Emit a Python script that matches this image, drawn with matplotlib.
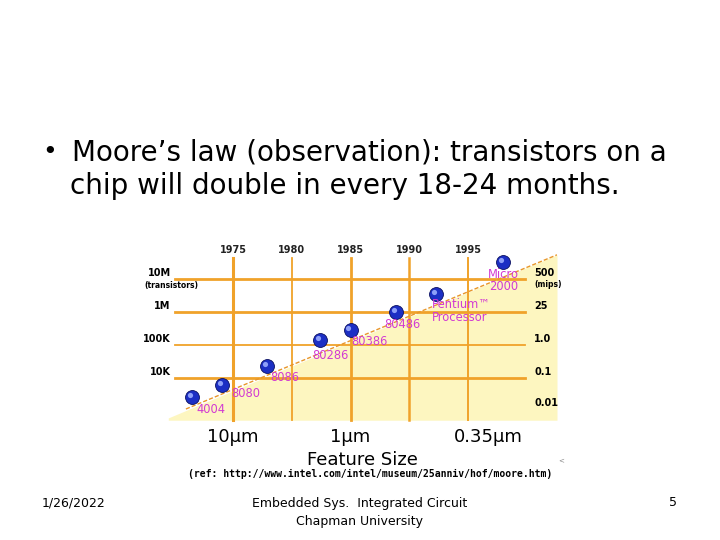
import numpy as np
import matplotlib
matplotlib.use("Agg")
import matplotlib.pyplot as plt
from matplotlib.transforms import ScaledTranslation

plt.rcParams['font.family'] = ['DejaVu Sans']

# chip data
chips = ['4004', '8080', '8086', '80286', '80386', '80486', 'Pentium\u2122\nProcessor', 'Micro\n2000']
years = [1971.5, 1974.1, 1977.9, 1982.4, 1985.0, 1988.9, 1992.3, 1998.0]
transistors = [2600, 6000, 23000, 140000, 280000, 1000000, 3500000, 32000000]

grid_years = [1975, 1980, 1985, 1990, 1995]
grid_counts = [1e7, 1e6, 1e5, 1e4]
count_labels = ['10M', '1M', '100K', '10K']
mips_labels = ['500', '25', '1.0', '0.1', '0.01']
mips_levels = [1e7, 1e6, 1e5, 1e4, 10**3.24]
feature_sizes = ['10\u03bcm', '1\u03bcm', '0.35\u03bcm']
feature_years = [1975, 1985, 1996.7]

trend_years = [1969.5, 2002.55]
trend_counts = [10**2.79, 10**7.73]
fill_base = 10**2.72

# label offsets in points (dx, dy) and alignment
label_offsets = [(3, -8.6), (6.5, -5.8), (2.2, -8), (-5.8, -10.8), (0.7, -8), (-8.6, -9.4), (-3, -12.2), (0, -13)]
label_align = ['left'] * 7 + ['center']

orange = '#f0a22a'
magenta = '#d23ad2'

fig = plt.figure(figsize=(7.2, 5.4), dpi=100)
fig.patch.set_facecolor('white')

# slide text
fig.text(50 / 720, 1 - 152 / 540, '\u2022', fontsize=18, va='center', ha='center')
fig.text(72 / 720, 1 - 152 / 540, 'Moore\u2019s law (observation): transistors on a',
         fontsize=20, va='center', ha='left')
fig.text(70 / 720, 1 - 186 / 540, 'chip will double in every 18-24 months.',
         fontsize=20, va='center', ha='left')

# footer
fig.text(74 / 720, 1 - 503 / 540, '1/26/2022', fontsize=9, ha='center', va='center')
fig.text(360 / 720, 1 - 503 / 540, 'Embedded Sys.  Integrated Circuit', fontsize=9, ha='center', va='center')
fig.text(360 / 720, 1 - 521 / 540, 'Chapman University', fontsize=9, ha='center', va='center')
fig.text(673 / 720, 1 - 503 / 540, '5', fontsize=9, ha='center', va='center')

# chart
ax = fig.add_axes([137 / 720, 1 - 485 / 540, 420 / 720, 248 / 540])
ax.set_xlim(1966.84, 2002.55)
ax.set_yscale('log')
ax.set_ylim(10**0.758, 10**8.27)
ax.axis('off')

tx = np.linspace(trend_years[0], trend_years[1], 50)
ty = 10**np.interp(tx, trend_years, np.log10(trend_counts))
ax.fill_between(tx, fill_base, ty, color='#fdf6c0', lw=0, zorder=1)

year_lw = [2.2, 1.3, 2.0, 1.8, 1.4]
for y, lw in zip(grid_years, year_lw):
    ax.plot([y, y], [10**2.73, 10**7.64], color=orange, lw=lw, zorder=2)
    ax.text(y, 10**7.88, str(y), fontsize=7, fontweight='bold', ha='center', va='center', color='#222222')
count_lw = [2.0, 2.0, 1.3, 2.0]
for c, lab, lw in zip(grid_counts, count_labels, count_lw):
    ax.plot([1970.07, 1999.8], [c, c], color=orange, lw=lw, zorder=2)
    ax.text(1969.7, c * 10**0.18, lab, fontsize=7, fontweight='bold', ha='right', va='center')
ax.text(1967.5, 1e7 / 10**0.2, '(transistors)', fontsize=5.5, fontweight='bold', ha='left', va='center')

for lab, lev in zip(mips_labels, mips_levels):
    ax.text(2000.6, lev * 10**0.18 if lab != '0.01' else lev, lab, fontsize=7, fontweight='bold',
            ha='left', va='center')
ax.text(2000.6, 1e7 / 10**0.18, '(mips)', fontsize=5.5, fontweight='bold', ha='left', va='center')

# trend line (dashed)
ax.plot([1971.0, 2002.55], [10**3.06, 10**7.73], color='#e8962a', lw=1.0, ls=(0, (3, 1.5)), zorder=3)

# chips as shaded spheres
ax.scatter(years, transistors, s=100, color='#1c2fc4', edgecolor='#0a1060', lw=0.6, zorder=5)
shine = ax.transData + ScaledTranslation(-1.6 / 72, 1.6 / 72, fig.dpi_scale_trans)
ax.scatter(years, transistors, s=14, color='#8ea0f8', lw=0, zorder=6, transform=shine)
for name, x, t, off, ha in zip(chips, years, transistors, label_offsets, label_align):
    ax.annotate(name, (x, t), xytext=off, textcoords='offset points', fontsize=8.3,
                color=magenta, ha=ha, va='center', linespacing=0.95, zorder=7)

for lab, x in zip(feature_sizes, feature_years):
    ax.text(x, 10**2.21, lab, fontsize=13, ha='center', va='center')
ax.text(0.536, 0.10, 'Feature Size', fontsize=13, ha='center', va='center', transform=ax.transAxes)
ax.text(0.555, 0.044, '(ref: http://www.intel.com/intel/museum/25anniv/hof/moore.htm)',
        fontsize=7, fontweight='bold', ha='center', va='center', transform=ax.transAxes,
        family=['DejaVu Sans Mono', 'DejaVu Sans'])
ax.text(1.003, 0.10, '<', fontsize=5, color='#888888', ha='left', va='center', transform=ax.transAxes)

fig.savefig('out.png', dpi=100)
